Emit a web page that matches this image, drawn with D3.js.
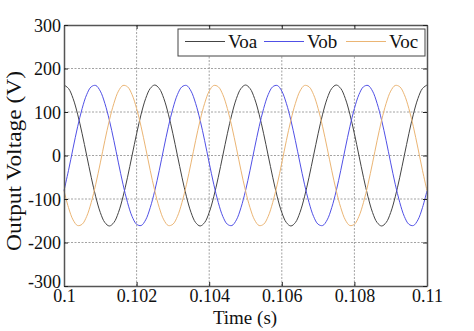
<!DOCTYPE html>
<html><head><meta charset="utf-8">
<script src="https://cdn.jsdelivr.net/npm/d3@7"></script>
<style>body{margin:0;background:#fff}svg{display:block}
svg text{font-family:"Liberation Serif","Times New Roman",Tinos,serif !important;}</style>
</head><body>
<svg id="c" width="474" height="331"></svg>
<script>
// time samples (s)
const time = [0.1,0.100125,0.10025,0.100375,0.1005,0.100625,0.10075,0.100875,0.101,0.101125,0.10125,0.101375,0.1015,0.101625,0.10175,0.101875,0.102,0.102125,0.10225,0.102375,
0.1025,0.102625,0.10275,0.102875,0.103,0.103125,0.10325,0.103375,0.1035,0.103625,0.10375,0.103875,0.104,0.104125,0.10425,0.104375,0.1045,0.104625,0.10475,0.104875,
0.105,0.105125,0.10525,0.105375,0.1055,0.105625,0.10575,0.105875,0.106,0.106125,0.10625,0.106375,0.1065,0.106625,0.10675,0.106875,0.107,0.107125,0.10725,0.107375,
0.1075,0.107625,0.10775,0.107875,0.108,0.108125,0.10825,0.108375,0.1085,0.108625,0.10875,0.108875,0.109,0.109125,0.10925,0.109375,0.1095,0.109625,0.10975,0.109875,0.11];
const voa = [162,154,131,95,50,0,-50,-95,-131,-154,-162,-154,-131,-95,-50,0,50,95,131,154,
162,154,131,95,50,0,-50,-95,-131,-154,-162,-154,-131,-95,-50,0,50,95,131,154,
162,154,131,95,50,0,-50,-95,-131,-154,-162,-154,-131,-95,-50,0,50,95,131,154,
162,154,131,95,50,0,-50,-95,-131,-154,-162,-154,-131,-95,-50,0,50,95,131,154,162];
const vob = [-81,-34,17,66,108,140,158,161,148,120,81,34,-17,-66,-108,-140,-158,-161,-148,-120,
-81,-34,17,66,108,140,158,161,148,120,81,34,-17,-66,-108,-140,-158,-161,-148,-120,
-81,-34,17,66,108,140,158,161,148,120,81,34,-17,-66,-108,-140,-158,-161,-148,-120,
-81,-34,17,66,108,140,158,161,148,120,81,34,-17,-66,-108,-140,-158,-161,-148,-120,-81];
const voc = [-81,-120,-148,-161,-158,-140,-108,-66,-17,34,81,120,148,161,158,140,108,66,17,-34,
-81,-120,-148,-161,-158,-140,-108,-66,-17,34,81,120,148,161,158,140,108,66,17,-34,
-81,-120,-148,-161,-158,-140,-108,-66,-17,34,81,120,148,161,158,140,108,66,17,-34,
-81,-120,-148,-161,-158,-140,-108,-66,-17,34,81,120,148,161,158,140,108,66,17,-34,-81];
const seriesNames = ["Voa","Vob","Voc"];
const seriesColors = ["#444444","#5050e6","#ebb574"];
const xTicks = [0.1,0.102,0.104,0.106,0.108,0.11];
const xTickLabels = ["0.1","0.102","0.104","0.106","0.108","0.11"];
const yTicks = [-300,-200,-100,0,100,200,300];
const yTickLabels = ["-300","-200","-100","0","100","200","300"];

const svg = d3.select("#c");
const L=64,R=427,T=25,B=286;
const x = d3.scaleLinear().domain([0.1,0.11]).range([L,R]);
const y = d3.scaleLinear().domain([-300,300]).range([B,T]);

// grid
const g = svg.append("g");
g.selectAll("line.gx").data(xTicks.slice(1,-1)).join("line")
  .attr("x1",d=>x(d)).attr("x2",d=>x(d)).attr("y1",T).attr("y2",B)
  .attr("stroke","#8a8a8a").attr("stroke-width",0.8).attr("stroke-dasharray","2,1.5");
g.selectAll("line.gy").data(yTicks.slice(1,-1)).join("line")
  .attr("x1",L).attr("x2",R).attr("y1",d=>y(d)).attr("y2",d=>y(d))
  .attr("stroke","#8a8a8a").attr("stroke-width",0.8).attr("stroke-dasharray","2,1.5");

// lines
const series = [voa,vob,voc];
const line = d3.line().x((d,i)=>x(time[i])).y(d=>y(d)).curve(d3.curveCatmullRom);
series.forEach((s,k)=>{
  svg.append("path").datum(s).attr("d",line).attr("fill","none")
    .attr("stroke",seriesColors[k]).attr("stroke-width",1);
});

// axes (inward ticks on all sides)
const axColor="#555";
const bx = svg.append("g").attr("transform",`translate(0,${B})`)
  .call(d3.axisBottom(x).tickValues(xTicks).tickFormat((d,i)=>xTickLabels[i]).tickSizeInner(-4).tickSizeOuter(0).tickPadding(3));
const tx = svg.append("g").attr("transform",`translate(0,${T})`)
  .call(d3.axisTop(x).tickValues(xTicks).tickFormat("").tickSizeInner(-4).tickSizeOuter(0));
const ly = svg.append("g").attr("transform",`translate(${L},0)`)
  .call(d3.axisLeft(y).tickValues(yTicks).tickFormat((d,i)=>yTickLabels[i]).tickSizeInner(-4).tickSizeOuter(0).tickPadding(3));
const ry = svg.append("g").attr("transform",`translate(${R},0)`)
  .call(d3.axisRight(y).tickValues(yTicks).tickFormat("").tickSizeInner(-4).tickSizeOuter(0));
[bx,tx,ly,ry].forEach(a=>{
  a.select(".domain").attr("stroke",axColor).attr("stroke-width",1.5);
  a.selectAll(".tick line").attr("stroke","#222");
  a.selectAll("text").attr("font-size",18).attr("fill","#111");
});
ly.selectAll("text").attr("dy","0.35em");
ly.selectAll(".tick").filter(d=>d===-300).select("text").attr("dy","0.1em");

// axis labels
svg.append("text").attr("x",245).attr("y",324).attr("text-anchor","middle")
  .attr("font-size",19).attr("fill","#111").text("Time (s)");
svg.append("text").attr("transform","translate(21,161) rotate(-90)").attr("text-anchor","middle")
  .attr("font-size",20).attr("fill","#111")
  .attr("textLength",180).attr("lengthAdjust","spacingAndGlyphs").text("Output Voltage (V)");

// legend
const lg = svg.append("g");
lg.append("rect").attr("x",178).attr("y",29).attr("width",247).attr("height",27)
  .attr("fill","#fff").attr("stroke","#444").attr("stroke-width",1);
const lx = [185,264,346];
seriesNames.forEach((n,k)=>{
  lg.append("line").attr("x1",lx[k]).attr("x2",lx[k]+40).attr("y1",41.5).attr("y2",41.5)
    .attr("stroke",seriesColors[k]).attr("stroke-width",1);
  lg.append("text").attr("x",lx[k]+43).attr("y",48).attr("font-size",19)
    .attr("fill","#111").text(n);
});
</script>
</body></html>
